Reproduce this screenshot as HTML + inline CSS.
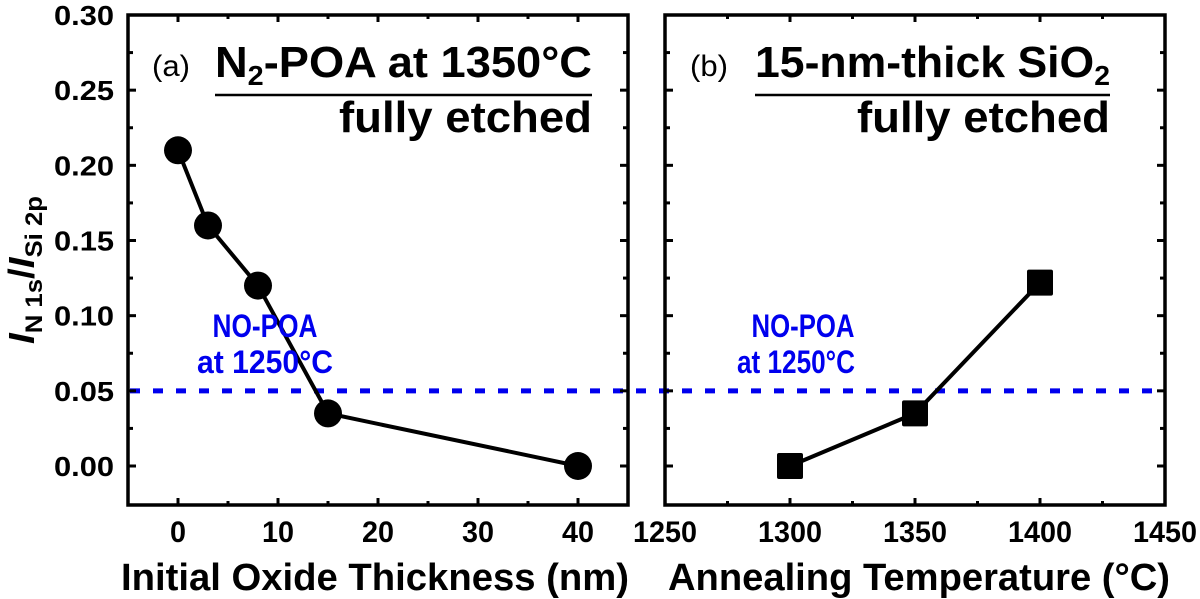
<!DOCTYPE html>
<html><head><meta charset="utf-8"><style>
html,body{margin:0;padding:0;background:#fff;}
svg{display:block;font-family:"Liberation Sans Narrow","Liberation Sans",sans-serif;}
</style></head><body>
<svg id="chart" width="1200" height="599" viewBox="0 0 1200 599" xmlns="http://www.w3.org/2000/svg">
<g id="g"></g>
</svg>
<script>
const leftX=[0,3,8,15,40];
const leftY=[0.21,0.16,0.12,0.035,0];
const rightX=[1300,1350,1400];
const rightY=[0,0.035,0.122];
const yTicks=[0,0.05,0.10,0.15,0.20,0.25,0.30];
const yTickLabels=["0.00","0.05","0.10","0.15","0.20","0.25","0.30"];
const leftXTicks=[0,10,20,30,40];
const rightXTicks=[1250,1300,1350,1400,1450];
const refLevel=0.05;

const NS="http://www.w3.org/2000/svg";
const g=document.getElementById('g');
function el(t,a,p){const e=document.createElementNS(NS,t);for(const k in a)e.setAttribute(k,a[k]);(p||g).appendChild(e);return e;}
const top_=15,bot=505;
const y=v=>466+(0-v)*(466-15)/0.30;
const xL=v=>128+(v+5)*(500/50);
const xR=v=>665+(v-1250)*(500/200);

let ln=el('line',{x1:130,x2:1165,y1:y(refLevel),y2:y(refLevel),stroke:'#0000ee','stroke-width':5,'stroke-dasharray':'10 13'});



function frame(x0,x1,name,xs,xf,labels,minorStep){
  const r=el('rect',{x:x0,y:top_,width:x1-x0,height:bot-top_,fill:'none',stroke:'#000','stroke-width':3.5});
  
  
  yTicks.forEach((v,i)=>{
    el('line',{x1:x0,x2:x0+8,y1:y(v),y2:y(v),stroke:'#000','stroke-width':3});
    el('line',{x1:x1,x2:x1-8,y1:y(v),y2:y(v),stroke:'#000','stroke-width':3});
    if(i<yTicks.length-1){const m=v+0.025;
      el('line',{x1:x0,x2:x0+5,y1:y(m),y2:y(m),stroke:'#000','stroke-width':3});
      el('line',{x1:x1,x2:x1-5,y1:y(m),y2:y(m),stroke:'#000','stroke-width':3});}
  });
  xs.forEach((v,i)=>{
    const X=xf(v);
    el('line',{x1:X,x2:X,y1:bot,y2:bot-7,stroke:'#000','stroke-width':3});
    el('line',{x1:X,x2:X,y1:top_,y2:top_+7,stroke:'#000','stroke-width':3});
    const m=v+minorStep;
    if(xf(m)<x1-2){el('line',{x1:xf(m),x2:xf(m),y1:bot,y2:bot-4,stroke:'#000','stroke-width':3});
      el('line',{x1:xf(m),x2:xf(m),y1:top_,y2:top_+4,stroke:'#000','stroke-width':3});}
    const t=el('text',{x:X,y:542,'text-anchor':'middle','font-size':30,'font-weight':'bold',textLength:labels[i].length*16,lengthAdjust:'spacingAndGlyphs'});
    t.textContent=labels[i];
    
    
  });
}
frame(128,628,'panel-a',leftXTicks,xL,leftXTicks.map(String),5);
frame(665,1165,'panel-b',rightXTicks,xR,rightXTicks.map(String),25);

yTicks.forEach((v,i)=>{
  const t=el('text',{x:114,y:y(v)+10,'text-anchor':'end','font-size':28,'font-weight':'bold',textLength:60,lengthAdjust:'spacingAndGlyphs'});
  t.textContent=yTickLabels[i];
  
  
});

let p=el('polyline',{points:leftX.map((v,i)=>xL(v)+','+y(leftY[i])).join(' '),fill:'none',stroke:'#000','stroke-width':4});


leftX.forEach((v,i)=>{
  const c=el('circle',{cx:xL(v),cy:y(leftY[i]),r:14,fill:'#000'});
  
  
});
p=el('polyline',{points:rightX.map((v,i)=>xR(v)+','+y(rightY[i])).join(' '),fill:'none',stroke:'#000','stroke-width':4});


rightX.forEach((v,i)=>{
  const s=el('rect',{x:xR(v)-13,y:y(rightY[i])-13,width:26,height:26,rx:2,fill:'#000'});
  
  
});
</script>
<script>
(function(){
const svg=document.getElementById('chart');
svg.insertAdjacentHTML('beforeend',`
<text x="152" y="76" font-size="30" font-family="Liberation Sans, sans-serif" textLength="38" lengthAdjust="spacingAndGlyphs">(a)</text>
<text x="215" y="77" font-size="44" font-weight="bold" textLength="377" lengthAdjust="spacingAndGlyphs">N<tspan font-size="28" dy="8">2</tspan><tspan dy="-8">-POA at 1350°C</tspan></text>
<line x1="215" x2="592" y1="95" y2="95" stroke="#000" stroke-width="2.5"/>
<text x="592" y="132" text-anchor="end" font-size="44" font-weight="bold" textLength="253" lengthAdjust="spacingAndGlyphs">fully etched</text>
<text x="690" y="76" font-size="30" font-family="Liberation Sans, sans-serif" textLength="38" lengthAdjust="spacingAndGlyphs">(b)</text>
<text x="755" y="77" font-size="44" font-weight="bold" textLength="355" lengthAdjust="spacingAndGlyphs">15-nm-thick SiO<tspan font-size="28" dy="8">2</tspan></text>
<line x1="755" x2="1110" y1="95" y2="95" stroke="#000" stroke-width="2.5"/>
<text x="1110" y="132" text-anchor="end" font-size="44" font-weight="bold" textLength="253" lengthAdjust="spacingAndGlyphs">fully etched</text>
<g fill="#0000ee" font-size="32" font-weight="bold">
<text x="265" y="337" text-anchor="middle" textLength="105" lengthAdjust="spacingAndGlyphs">NO-POA</text>
<text x="265" y="373" text-anchor="middle" textLength="136" lengthAdjust="spacingAndGlyphs">at 1250°C</text>
<text x="803" y="337" text-anchor="middle" textLength="103" lengthAdjust="spacingAndGlyphs">NO-POA</text>
<text x="796" y="373" text-anchor="middle" textLength="118" lengthAdjust="spacingAndGlyphs">at 1250°C</text>
</g>
<text x="375" y="590" text-anchor="middle" font-size="38" font-weight="bold" textLength="508" lengthAdjust="spacingAndGlyphs">Initial Oxide Thickness (nm)</text>
<text x="919" y="590" text-anchor="middle" font-size="38" font-weight="bold" textLength="502" lengthAdjust="spacingAndGlyphs">Annealing Temperature (°C)</text>
<text transform="translate(34,344) rotate(-90)" font-size="36" font-weight="bold" font-family="Liberation Sans, sans-serif" textLength="148" lengthAdjust="spacingAndGlyphs"><tspan font-style="italic">I</tspan><tspan font-size="24" dy="8">N 1s</tspan><tspan dy="-8">/</tspan><tspan font-style="italic">I</tspan><tspan font-size="24" dy="8">Si 2p</tspan></text>
`);
})();
</script>
</body></html>
